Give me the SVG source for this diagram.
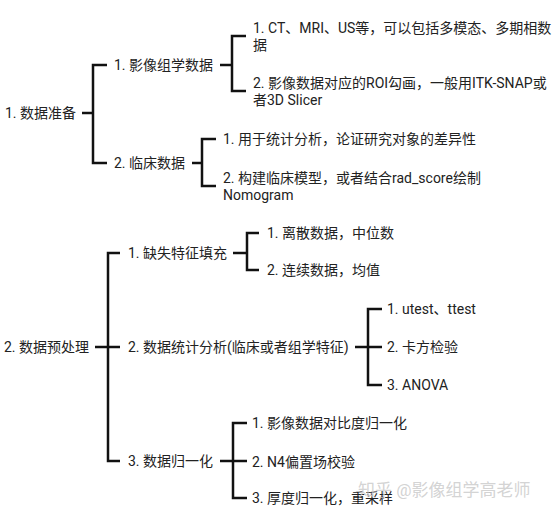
<svg xmlns="http://www.w3.org/2000/svg" width="557" height="513" viewBox="0 0 557 513">
<style>
text{font-family:Roboto,"Noto Sans CJK SC",sans-serif;font-size:14px;fill:#222}
.c path{fill:none;stroke:#111;stroke-width:2.5}
.wm{font-size:17px;fill:#c8c8c8;fill-opacity:0.8}
</style>
<rect width="557" height="513" fill="#fff"/>
<g class="c" id="connectors">
<path d="M82,113H93"/><path d="M107,65H93V163H107"/>
<path d="M220,65H232"/><path d="M246,36H232V91H246"/>
<path d="M192,163H202"/><path d="M216,139H202V186H216"/>
<path d="M95,347H120"/><path d="M120,253H108V461H120"/>
<path d="M233,253H247"/><path d="M259,233H247V270H259"/>
<path d="M355,347H382"/><path d="M382,309H368V385H382"/>
<path d="M220,461H247"/><path d="M247,423H233V498H247"/>
</g>
<g id="n1"><text x="5" y="118">1. 数据准备</text></g>
<g id="n1_1"><text x="114" y="70">1. 影像组学数据</text></g>
<g id="n1_1_1"><text x="253" y="33">1. CT、MRI、US等，可以包括多模态、多期相数</text><text x="253" y="50">据</text></g>
<g id="n1_1_2"><text x="253" y="88">2. 影像数据对应的ROI勾画，一般用ITK-SNAP或</text><text x="253" y="105">者3D Slicer</text></g>
<g id="n1_2"><text x="114" y="168">2. 临床数据</text></g>
<g id="n1_2_1"><text x="223" y="144">1. 用于统计分析，论证研究对象的差异性</text></g>
<g id="n1_2_2"><text x="223" y="183">2. 构建临床模型，或者结合rad_score绘制</text><text x="223" y="200">Nomogram</text></g>
<g id="n2"><text x="4" y="352">2. 数据预处理</text></g>
<g id="n2_1"><text x="128" y="258">1. 缺失特征填充</text></g>
<g id="n2_1_1"><text x="267" y="238">1. 离散数据，中位数</text></g>
<g id="n2_1_2"><text x="267" y="275">2. 连续数据，均值</text></g>
<g id="n2_2"><text x="128" y="352">2. 数据统计分析(临床或者组学特征)</text></g>
<g id="n2_2_1"><text x="387" y="314">1. utest、ttest</text></g>
<g id="n2_2_2"><text x="387" y="352">2. 卡方检验</text></g>
<g id="n2_2_3"><text x="387" y="390">3. ANOVA</text></g>
<g id="n2_3"><text x="128" y="466">3. 数据归一化</text></g>
<g id="n2_3_1"><text x="252" y="428">1. 影像数据对比度归一化</text></g>
<g id="n2_3_2"><text x="252" y="467">2. N4偏置场校验</text></g>
<g id="n2_3_3"><text x="252" y="503">3. 厚度归一化，重采样</text></g>
<text class="wm" x="358" y="496">知乎 @影像组学高老师</text>
</svg>
